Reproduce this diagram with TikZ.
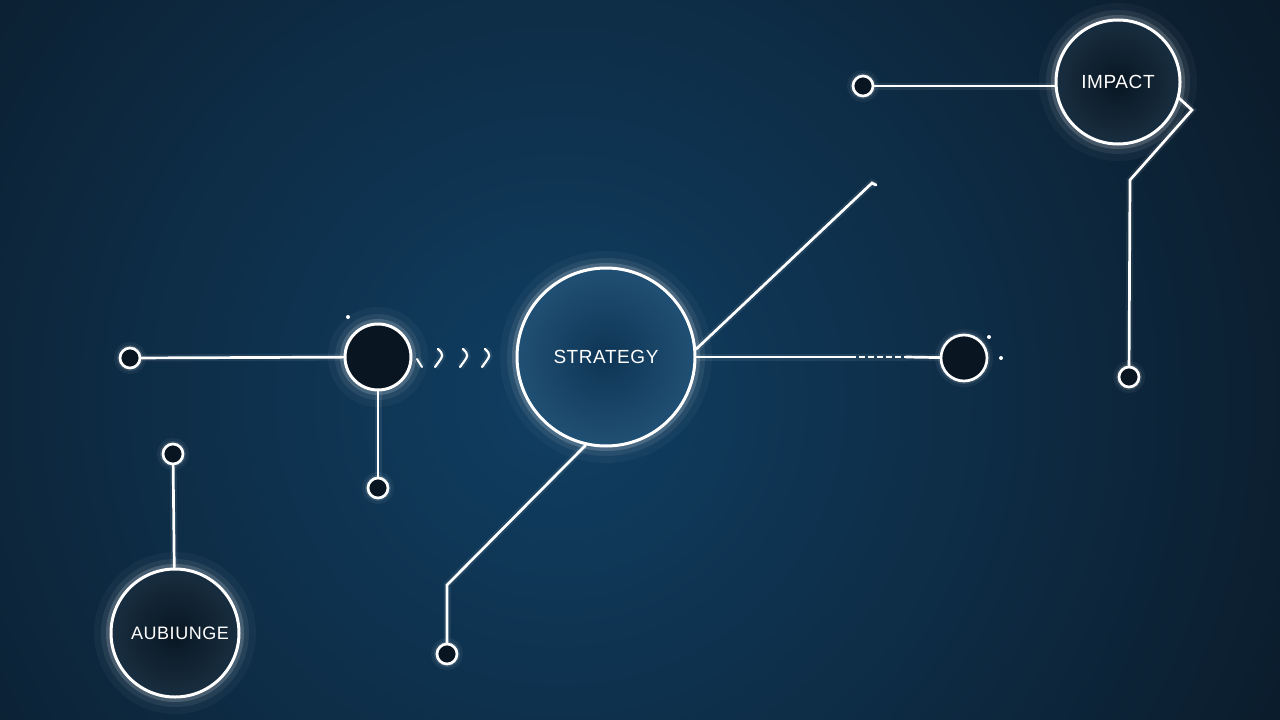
\documentclass[tikz,border=0pt]{standalone}
\usepackage{fontspec}
\setsansfont{Liberation Sans}[LetterSpace=3]
\usetikzlibrary{calc}

\definecolor{bgcore}{RGB}{16,62,98}
\definecolor{bgedge}{RGB}{11,27,42}
\definecolor{ringcore}{RGB}{9,22,34}
\definecolor{ringrim}{RGB}{24,46,64}
\definecolor{stratcore}{RGB}{14,52,84}
\definecolor{stratrim}{RGB}{32,80,116}

\tikzset{every picture/.style={line width=2.5pt}}
\tikzset{
  halo/.style={preaction={draw=white,line width=34pt,opacity=0.035},
               preaction={draw=white,line width=20pt,opacity=0.07},
               preaction={draw=white,line width=10pt,opacity=0.16}},
  softhalo/.style={preaction={draw=white,line width=12pt,opacity=0.05},
                   preaction={draw=white,line width=6pt,opacity=0.12}},
  bigring/.style={circle,draw=white,line width=3pt,inner sep=0pt,
                  inner color=ringcore,outer color=ringrim,text=white,
                  font=\sffamily\fontsize{19}{19}\selectfont,halo},
  pin/.style={circle,draw=white,line width=2.7pt,inner sep=0pt,
              minimum size=20pt,fill=ringcore,softhalo},
  wire/.style={draw=white,line width=2.7pt,line cap=round,
               preaction={draw=white,line width=7pt,opacity=0.08}},
  speck/.style={circle,fill=white,inner sep=0pt,minimum size=4pt}
}

\begin{document}
\begin{tikzpicture}[x=1pt,y=1pt,yscale=-1,xscale=1]
	\useasboundingbox (0,0) rectangle (1280,720);
	%Background
	\fill[bgedge] (0,0) rectangle (1280,720);
	\shade[inner color=bgcore,outer color=bgedge] (-260,-420) rectangle (1380,1220);

	%Big rings
	\node[bigring,minimum size=178pt,inner color=stratcore,outer color=stratrim] (strat) at (606,357) {STRATEGY};
	\node[bigring,minimum size=124pt] (impact) at (1118,82) {IMPACT};
	\node[bigring,minimum size=128pt,font=\sffamily\fontsize{18}{18}\selectfont,text depth=0pt] (audience) at (175,633) {\hspace*{10pt}AUBIUNGE};
	\node[bigring,minimum size=66pt,inner color=ringcore,outer color=ringcore] (hub) at (378,357) {};
	\node[pin,minimum size=46pt] (ringR) at (964,358) {};

	%Pins
	\node[pin] (pinL) at (130,358) {};
	\node[pin] (pinHub) at (378,488) {};
	\node[pin] (pinLow) at (447,654) {};
	\node[pin] (pinAud) at (173,454) {};
	\node[pin] (pinImp) at (863,86) {};
	\node[pin] (pinR) at (1129,377) {};

	%Free ends and bends
	\coordinate (tip) at (872,183);
	\coordinate (bendA) at (447,585);
	\coordinate (bendB) at (1192,110);
	\coordinate (bendC) at (1130,180);
	\coordinate (gapA) at (850,357);
	\coordinate (gapB) at (906,357);

	%Wires
	\draw[wire] (pinL) -- (hub);
	\draw[wire] (hub) -- (pinHub);
	\draw[wire] (pinAud) -- (audience);
	\draw[wire] (pinImp) -- (impact.west |- pinImp);
	\draw[wire] (strat.5) -- (tip) -- ++(4,2);
	\draw[wire] (strat.257) -- (bendA) -- (pinLow);
	\draw[wire] (strat.east) -- (gapA);
	\draw[wire,dash pattern=on 6pt off 3pt,line cap=butt] (gapA) -- (gapB);
	\draw[wire] (gapB) -- (ringR);
	\draw[wire] (impact.-15) -- (bendB) -- (bendC) -- (pinR);

	%Chevrons
	\foreach \cx in {440,465,487}
		\draw[wire,line width=2.2pt] (\cx-2,349) .. controls (\cx+4,355) .. (\cx-5,367);
	\draw[wire,line width=2pt] (417,359) -- (422,367);

	%Specks
	\node[speck] (speckA) at (348,317) {};
	\node[speck] (speckB) at (989,337) {};
	\node[speck] (speckC) at (1001,358) {};
\end{tikzpicture}
\end{document}
